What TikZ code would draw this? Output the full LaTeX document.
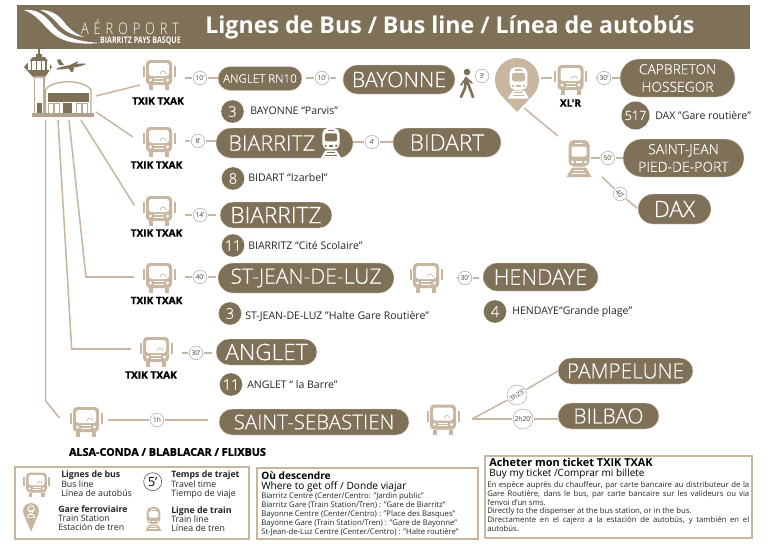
\documentclass[tikz,border=0pt]{standalone}
\usepackage{fontspec}
\setmainfont{Open Sans}
\newfontfamily\lightfont[FakeBold=0.3]{Open Sans Light}
\newfontfamily\logofont[LetterSpace=38]{Open Sans Light}
\newfontfamily\heavyfont[FakeBold=1.2]{Open Sans Bold}
\usetikzlibrary{calc, shapes.misc}

\definecolor{brownc}{RGB}{127,112,88}
\definecolor{tanc}{RGB}{200,182,161}

\tikzset{
    link/.style={draw=tanc, line width=1.15pt},
    pill/.style 2 args={rounded rectangle, fill=brownc, draw=tanc!50, line width=.3pt, text=white, inner sep=0pt,
        align=center, minimum width=#1*0.75pt, minimum height=#2*0.75pt},
    timebox/.style={circle, draw=black!40, fill=white, line width=.3pt, inner sep=0pt, minimum size=10.2pt,
        outer sep=.8pt, text=black!75, font=\fontsize{5}{5}\selectfont},
    badge/.style={circle, fill=brownc, text=white, inner sep=0pt, minimum size=17pt, font=\lightfont\fontsize{11}{11}\selectfont},
    stoptext/.style={anchor=west, inner sep=0pt, text=black!85, font=\fontsize{7.9}{7.9}\selectfont},
    company/.style={inner sep=0pt, text=black, font=\heavyfont\fontsize{7.6}{7.6}\selectfont},
    iconspot/.style={inner sep=0pt, minimum width=39pt, minimum height=23pt},
    boxframe/.style={draw=tanc, line width=1.5pt, fill=white},
    legtext/.style={anchor=north west, inner sep=0pt, align=left, text=black!85, font=\fontsize{6.6}{6.9}\selectfont},
    pics/busicon/.style={code={
        \fill[tanc, rounded corners=3] (-13,-15) rectangle (13,10);
        \fill[white, rounded corners=2] (-10,-12) rectangle (10,1);
        \fill[tanc] (-16.5,-9) rectangle (-14.5,2);
        \fill[tanc] (14.5,-9) rectangle (16.5,2);
        \fill[tanc] (-10,10) rectangle (-6,15);
        \fill[tanc] (6,10) rectangle (10,15);
        \fill[white] (-8.5,5) circle[radius=1.6];
        \fill[white] (8.5,5) circle[radius=1.6];
        \fill[white] (-5,3) rectangle (5,4);
        \fill[white] (-5,5.5) rectangle (5,6.5);
        \draw[tanc, line width=.5pt] (1,-1) .. controls (2,-5) and (6,-5) .. (7,-1);
    }},
    pics/trainicon/.style 2 args={code={
        \fill[#1, rounded corners=4] (-10.5,-18.5) rectangle (10.5,8);
        \fill[#2, rounded corners=1.5] (-7.5,-12) rectangle (7.5,-2);
        \fill[#2] (-4,-16) rectangle (4,-14.5);
        \fill[#2] (-6.5,3.5) circle[radius=1.5];
        \fill[#2] (6.5,3.5) circle[radius=1.5];
        \fill[#2] (-3,2.5) rectangle (3,4.5);
        \fill[#1] (-7,9) -- (7,9) -- (12.5,18.5) -- (-12.5,18.5) -- cycle;
        \fill[#2] (-5,11) rectangle (5,12);
        \fill[#2] (-7,14.2) rectangle (7,15.2);
    }},
    pics/pinicon/.style={code={
        \fill[tanc] (0,0) circle[radius=22];
        \fill[tanc] (0,32) -- (-16,15.1) -- (16,15.1) -- cycle;
    }}
}

\begin{document}
\begin{tikzpicture}[x=0.75pt, y=-0.75pt]
    \useasboundingbox (0,0) rectangle (768,543);

    % header
    \fill[brownc] (17,5) rectangle (750,49);
    \fill[white] (24,10) .. controls (36,9) and (44,14) .. (52,24) .. controls (60,34) and (70,41) .. (100,43)
        .. controls (78,45) and (62,42) .. (52,33) .. controls (42,24) and (36,14) .. (24,10) -- cycle;
    \fill[white] (40,10) .. controls (50,10) and (58,14) .. (64,22) .. controls (70,30) and (76,34) .. (84,37)
        .. controls (74,36) and (66,32) .. (60,26) .. controls (54,19) and (48,13) .. (40,10) -- cycle;
    \node[anchor=west, inner sep=0pt, text=white, xscale=.8, font=\logofont\fontsize{12}{12}\selectfont] (logo) at (81,27) {AÉROPORT};
    \node[anchor=east, inner sep=0pt, text=white, xscale=.78, font=\bfseries\fontsize{6.8}{6.8}\selectfont] (logosub) at (181,41) {BIARRITZ PAYS BASQUE};
    \node[anchor=west, inner sep=0pt, text=white, font=\bfseries\fontsize{17.4}{17.4}\selectfont] (title) at (205,27)
        {Lignes de Bus {\lightfont/} Bus line {\lightfont/} Línea de autobús};

    % airport
    \fill[brownc] (38.3,48) rectangle (39.7,55);
    \fill[brownc] (36,54) rectangle (42,57);
    \fill[brownc] (33,57) -- (45,57) -- (52,67) -- (45,77) -- (33,77) -- (24,67) -- cycle;
    \foreach \i in {0,...,4}
        \fill[white] (27.5+\i*4.8,60.5) rectangle (31+\i*4.8,69.5);
    \draw[tanc!80!brownc, line width=.9pt, fill=white] (34.5,77) rectangle (44,114);
    \fill[brownc] (37,103) rectangle (42,113);
    \draw[tanc!80!brownc, line width=.9pt, fill=white] (45.5,114) -- (45.5,90) .. controls (52,79) and (84,79) .. (91,90) -- (91,114);
    \fill[brownc] (47.5,93) rectangle (89,102);
    \foreach \i in {48,54,76,82}
        \draw[tanc!80!brownc, line width=.7pt] (\i,103) rectangle (\i+5,113);
    \fill[brownc] (62.5,103) rectangle (72,113);
    \fill[tanc!70!brownc] (32,113) rectangle (94,116.5);
    % plane
    \fill[brownc, rotate around={10:(71,66.5)}] (71,66.5) ellipse[x radius=15, y radius=1.6];
    \fill[brownc] (57,60) -- (60,59) -- (64,65) -- (59,65) -- cycle;
    \fill[brownc] (68,66) -- (77,61.5) -- (78.5,62) -- (73,67) -- cycle;
    \fill[brownc] (68,67) -- (71,72) -- (73,72) -- (74,68) -- cycle;

    % tower links
    \coordinate (twra) at (96,96);
    \coordinate (twrb) at (96,112);
    \coordinate (twrc) at (81,120);
    \coordinate (twrd) at (69,120);
    \coordinate (twre) at (58,120);
    \coordinate (twrf) at (45.7,120);
    \coordinate (buain) at (140,85);
    \coordinate (bubin) at (133,137);
    \coordinate (bucin) at (134.5,205.5);
    \coordinate (budin) at (134,277);
    \coordinate (buein) at (131,349);
    \coordinate (bufin) at (59.5,418);
    \draw[link] (twra) -- (buain);
    \draw[link] (twrb) -- (bubin);
    \draw[link] (twrc) -- (bucin);
    \draw[link] (twrd) -- (86,277) -- (budin);
    \draw[link] (twre) -- (71.7,349) -- (buein);
    \draw[link] (twrf) -- (45.7,401) -- (bufin);

    % buses
    \foreach \name/\xx/\yy in {busa/159/75, busb/159/142, busc/159/211, busd/159/278, buse/156/352, busf/86/422, bush/426/278, busx/570.5/80, busp/443/419.5} {
        \node[iconspot] (\name) at (\xx,\yy) {};
        \pic at (\name) {busicon};
    }
    \node[company] (cmpa) at (158,101) {TXIK TXAK};
    \node[company] (cmpb) at (156.5,165) {TXIK TXAK};
    \node[company] (cmpc) at (156.5,233) {TXIK TXAK};
    \node[company] (cmpd) at (156.5,300.5) {TXIK TXAK};
    \node[company] (cmpe) at (151,375) {TXIK TXAK};
    \node[company, font=\heavyfont\fontsize{8.1}{8.1}\selectfont] (cmpf) at (167.5,452) {ALSA-CONDA / BLABLACAR / FLIXBUS};
    \node[company] (cmpx) at (570.5,103) {XL'R};

    % towns
    \node[pill={84}{24}, font=\lightfont\fontsize{8.7}{8.7}\selectfont] (rn) at (260,78.5) {ANGLET RN10};
    \node[pill={112}{29}, font=\lightfont\fontsize{16}{16}\selectfont] (bay) at (399,79.5) {BAYONNE};
    \node[pill={137}{30}, font=\lightfont\fontsize{16.2}{16.2}\selectfont] (bia) at (284.5,143) {BIARRITZ\hspace{19pt}};
    \node[pill={108}{29}, font=\lightfont\fontsize{17}{17}\selectfont] (bid) at (447,142.5) {BIDART};
    \node[pill={112}{26}, font=\lightfont\fontsize{17}{17}\selectfont] (bib) at (276,215) {BIARRITZ};
    \node[pill={176}{30}, font=\lightfont\fontsize{15.8}{15.8}\selectfont] (luz) at (306,278) {ST-JEAN-DE-LUZ};
    \node[pill={115}{28}, font=\lightfont\fontsize{16.3}{16.3}\selectfont] (hen) at (540.5,277) {HENDAYE};
    \node[pill={101}{26}, font=\lightfont\fontsize{17}{17}\selectfont] (ang) at (266.5,352) {ANGLET};
    \node[pill={190}{26}, font=\lightfont\fontsize{15.4}{15.4}\selectfont] (seb) at (314,422) {SAINT-SEBASTIEN};
    \node[pill={135}{26}, font=\lightfont\fontsize{15.6}{15.6}\selectfont] (pam) at (625.5,371) {PAMPELUNE};
    \node[pill={101}{26}, font=\lightfont\fontsize{15.7}{15.7}\selectfont] (bil) at (608.5,416) {BILBAO};
    \node[pill={115}{38}, font=\lightfont\fontsize{10.4}{13.2}\selectfont] (cap) at (677.5,78) {CAPBRETON\\HOSSEGOR};
    \node[pill={121}{38}, font=\lightfont\fontsize{10.5}{13.2}\selectfont] (sjp) at (683.5,158) {SAINT-JEAN\\PIED-DE-PORT};
    \node[pill={73}{30}, font=\lightfont\fontsize{17}{17}\selectfont] (dax) at (674.5,209) {DAX};

    % trains and stations
    \pic[scale=.81] at (331,143) {trainicon={white}{brownc}};
    \node[inner sep=0pt, minimum width=18pt, minimum height=27pt] (trn) at (579,158.5) {};
    \pic at (trn) {trainicon={tanc}{white}};
    \node[inner sep=0pt, minimum size=30pt] (sta) at (517,80) {};
    \pic at (sta) {pinicon};
    \pic[scale=.85] at (518.5,83) {trainicon={white}{tanc}};
    % walker
    \fill[brownc] (467,72) circle[radius=3.3];
    \draw[brownc, line width=2pt, line cap=round, line join=round] (461,97) -- (465,88) -- (466,78) -- (473,97);
    \draw[brownc, line width=1.3pt, line cap=round, line join=round] (461,85) -- (466,78) -- (472,83);

    % times
    \node[timebox] (ta) at (200,78) {10'};
    \node[timebox] (tb) at (322,78) {10'};
    \node[timebox] (tc) at (198,141) {8'};
    \node[timebox] (td) at (372,142) {4'};
    \node[timebox] (te) at (200,215) {14'};
    \node[timebox] (tf) at (200,277) {40'};
    \node[timebox] (tg) at (465,278) {30'};
    \node[timebox] (th) at (196,353) {30'};
    \node[timebox] (ti) at (157,420) {1h};
    \node[timebox] (tj) at (482,76) {3'};
    \node[timebox] (tk) at (604,78) {30'};
    \node[timebox] (tl) at (608,158) {50'};
    \node[timebox, rotate=-45] (tm) at (620,194) {40'};
    \node[timebox, minimum size=15pt, rotate=30] (tn) at (517,395) {3h25'};
    \node[timebox, minimum size=15pt] (to) at (523,419) {2h20'};

    % links
    \draw[link] (ta -| busa.east) -- (ta.west);
    \draw[link] (ta.east) -- (ta -| rn.west);
    \draw[link, shorten <=3pt] (ta -| rn.east) -- (tb.west);
    \draw[link, shorten >=5pt] (tb.east) -- (tb -| bay.west);
    \draw[link] (tc -| busb.east) -- (tc.west);
    \draw[link] (tc.east) -- (tc -| bia.west);
    \draw[link] (td -| bia.east) -- (td.west);
    \draw[link] (td.east) -- (td -| bid.west);
    \draw[link] (te -| busc.east) -- (te.west);
    \draw[link, shorten >=3pt] (te.east) -- (te -| bib.west);
    \draw[link] (tf -| busd.east) -- (tf.west);
    \draw[link, shorten >=1pt] (tf.east) -- (tf -| luz.west);
    \draw[link, shorten <=5pt] (tg -| bush.east) -- (tg.west);
    \draw[link, shorten >=3pt] (tg.east) -- (tg -| hen.west);
    \draw[link] (th -| buse.east) -- (th.west);
    \draw[link, shorten >=3pt] (th.east) -- (th -| ang.west);
    \draw[link, shorten <=-3.5pt] (ti -| busf.east) -- (ti.west);
    \draw[link, shorten >=8pt] (ti.east) -- (ti -| seb.west);
    \draw[link] (tk -| busx.east) -- (tk.west);
    \draw[link] (tk.east) -- (tk -| cap.west);
    \coordinate (staout) at (541,78);
    \coordinate (buxin) at (552,78);
    \draw[link] (staout) -- (buxin);
    \coordinate (stadown) at (524,108);
    \coordinate (trnin) at (558,136);
    \draw[link] (stadown) -- (trnin);
    \draw[link] (tl -| trn.east) -- (tl.west);
    \draw[link] (tl.east) -- (tl -| sjp.west);
    \coordinate (trnout) at (602,177);
    \coordinate (daxin) at (637,208);
    \draw[link] (trnout) -- (tm);
    \draw[link] (tm) -- (daxin);
    \coordinate (fork) at (472,419);
    \draw[link] (fork) -- (tn);
    \draw[link] (tn) -- (pam.west);
    \draw[link] (fork) -- (to.west);
    \draw[link] (to.east) -- (to -| bil.west);

    % stops
    \node[badge] (na) at (232.5,111.5) {3};
    \node[stoptext] (sa) at (250,111) {BAYONNE “Parvis”};
    \node[badge] (nb) at (233,178.5) {8};
    \node[stoptext] (sb) at (248,178) {BIDART “Izarbel”};
    \node[badge] (nc) at (233,245.5) {11};
    \node[stoptext] (sc) at (248,246) {BIARRITZ “Cité Scolaire”};
    \node[badge] (nd) at (230,313.5) {3};
    \node[stoptext] (sd) at (245,316) {ST-JEAN-DE-LUZ "Halte Gare Routière"};
    \node[badge] (ne) at (495,311.5) {4};
    \node[stoptext] (se) at (512,312) {HENDAYE“Grande plage”};
    \node[badge] (nf) at (231,384.5) {11};
    \node[stoptext] (sf) at (247,385) {ANGLET “ la Barre”};
    \node[badge, minimum size=21pt, font=\lightfont\fontsize{9.5}{9.5}\selectfont] (ng) at (635.5,115.5) {517};
    \node[stoptext] (sg) at (655,116) {DAX "Gare routière"};

    % legend
    \draw[boxframe] (14.5,466.5) rectangle (249,539);
    \pic[scale=.8] at (36.5,484.5) {busicon};
    \node[legtext] (lga) at (61,471) {\textbf{Lignes de bus}\\Bus line\\Línea de autobús};
    \node[circle, draw=black!70, line width=.4pt, inner sep=0pt, minimum size=13.5pt, font=\fontsize{9.5}{9.5}\selectfont] (lgb) at (152.7,481.7) {5'};
    \node[legtext] (lgc) at (171,471) {\textbf{Temps de trajet}\\Travel time\\Tiempo de viaje};
    \fill[tanc] (31,511) circle[radius=8];
    \fill[tanc] (31,532) -- (23.6,514) -- (38.4,514) -- cycle;
    \pic[scale=.36] at (31,511) {trainicon={white}{tanc}};
    \node[legtext] (lgd) at (58,505.5) {\textbf{Gare ferroviaire}\\Train Station\\Estación de tren};
    \pic[scale=.65] at (153.5,519) {trainicon={tanc}{white}};
    \node[legtext] (lge) at (171,506.5) {\textbf{Ligne de train}\\Train line\\Línea de tren};

    % where to get off
    \draw[boxframe] (256.5,467.5) rectangle (478,539);
    \node[anchor=north west, inner sep=0pt, align=left, font=\fontsize{7.6}{8.2}\selectfont] (gof) at (261,471)
        {\textbf{Où descendre}\\Where to get off / Donde viajar};
    \node[anchor=north west, inner sep=0pt, align=left, text=black!85, font=\fontsize{5.8}{6.7}\selectfont] (gol) at (261,492.5)
        {Biarritz Centre (Center/Centro:  "Jardin public"\\
        Biarritz Gare (Train Station/Tren) : "Gare de Biarritz"\\
        Bayonne Centre (Center/Centro) : "Place des Basques"\\
        Bayonne Gare (Train Station/Tren) : "Gare de Bayonne"\\
        St-Jean-de-Luz Centre (Center/Centro) : "Halte routière"};

    % ticket
    \draw[boxframe] (484.5,455.5) rectangle (752,538);
    \node[anchor=north west, inner sep=0pt, font=\bfseries\fontsize{8.2}{8.2}\selectfont] (tka) at (489,458) {Acheter mon ticket TXIK TXAK};
    \node[anchor=north west, inner sep=0pt, font=\fontsize{7.5}{7.5}\selectfont] (tkc) at (489,469) {Buy my ticket /Comprar mi billete};
    \node[anchor=north west, inner sep=0pt, text width=196.5pt, align=justify, text=black!85, font=\fontsize{5.8}{6.7}\selectfont] (tkb) at (487,481)
        {En espèce auprès du chauffeur, par carte bancaire au distributeur de la Gare Routière, dans le bus, par carte bancaire sur les valideurs ou via l'envoi d'un sms.\\
        Directly to the dispenser at the bus station, or in the bus.\\
        Directamente en el cajero a la estación de autobús, y también en el \mbox{autobús.}};
\end{tikzpicture}
\end{document}
